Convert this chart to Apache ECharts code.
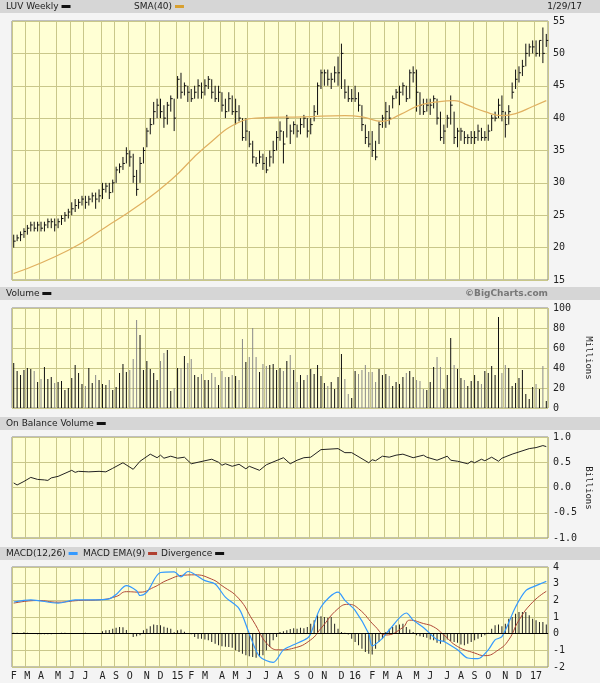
<!DOCTYPE html>
<html><head><meta charset="utf-8">
<script src="https://cdn.jsdelivr.net/npm/echarts@6/dist/echarts.min.js"></script>
<style>html,body{margin:0;padding:0;background:#f2f2f2}#c{width:600px;height:683px}</style>
</head><body><div id="c"></div>
<script>
const monthStart=[0,4,8,13,17,21,26,30,34,39,43,48,52,56,61,65,69,74,78,83,87,91,96,100,105,109,113,118,122,127,131,135,139,144,148,153];
const monthLabels=['F','M','A','M','J','J','A','S','O','N','D','15','F','M','A','M','J','J','A','S','O','N','D','16','F','M','A','M','J','J','A','S','O','N','D','17'];
const closes=[21,21.5,22,22.5, 23,23.5,23,23.5, 23,23.5,24,24,23.5, 24,24.5,25,25.5, 26,26.5,27,27.5, 27,27.5,28,27.5,28, 29,29.5,28.5,30, 32,32.5,33,34.5, 34,31,29,33,35, 38,39,41,42, 41,40,42,43,40,
46,44,45,44, 43,44,45,44, 45,46,44,43,44, 42,41,43,41, 41,40,37,38, 36,34,33,34,33, 32,34,35,37, 38,36,40,38,39, 38,39,40,38, 39,41,45,47, 47,46,46,47,47, 50,44,43,43,
43,42,39,37,36, 35,34,39,40, 41,40,43,44, 44,45,43,47,47, 44,42,41,42, 42,43,40,37,38, 40,42,37,38, 38,37,37,37, 37,38,37,37, 38,40,40,42,41, 39,41,44,46, 47,48,50,51,51, 50,52,50,52];
const highs=[22,22,22.5,23, 23.5,24,24,24, 24,24,24.5,24.5,24.5, 24.5,25,25.5,26, 27,27.5,27.5,28, 28,28,28.5,28.5,29, 30,30,30,30.5, 32.5,33,34,35.5, 35,34.5,32,34,35.5, 38.5,40,42.5,43, 43,42,42.5,43.5,43,
46.5,47,45.5,45, 44.5,45,46,45.5, 46,46.5,46,45,45, 44,43,44,43.5, 43,42,40,40, 38,36.5,34,35,34.5, 34,35,36.5,38, 39.5,38,40.5,39,39.5, 39,40,40.5,40, 40,42,45.5,47.5, 47.5,47.5,47,48,49.5, 51.5,46,45,44.5,
45,44,42,39,38, 38,36.5,39.5,40.5, 42.5,42,43.5,44.5, 45,45.5,45,47.5,48, 47.5,44,43,43, 43,43.5,43,41,39, 40.5,43.5,41,38.5, 38.5,38,37.5,38, 38,39,38.5,38, 39,40.5,41,43,43.5, 41,42,45.5,47.5, 48,49,51.5,51.5,52, 52,52,54,53];
const lows=[20,21,21,21.5, 22,22.5,22.5,22.5, 22.5,22.5,23,23,22.5, 23,23.5,24,24.5, 25,25.5,26,26.5, 26,26.5,27,26,27, 27.5,28.5,27.5,28.5, 30,31.5,32,33, 32.5,30,28,30,33, 35.5,37.5,39,40, 40,38.5,39,41,38,
43,43,43.5,42.5, 42.5,43,43,43, 43.5,44.5,43,42.5,42.5, 41,40,41,40.5, 39,39.5,36.5,36.5, 35.5,33,32.5,33,32, 31.5,32.5,33,35, 36.5,33,37,36,37.5, 37,37.5,38.5,37, 37.5,39.5,40.5,44.5, 45,45,44.5,45.5,45, 44.5,43,42.5,42.5,
42.5,41,38,36,35.5, 34,33.5,36,38.5, 38.5,39,41.5,43, 42,43.5,42.5,43,45.5, 41,40.5,40.5,41, 40.5,41.5,39,36.5,36, 38.5,39,36,35.5, 36.5,36,36,36, 36,36.5,36.5,36.5, 36.5,38,39.5,40,39.5, 37,39,43,44.5, 45.5,46.5,48,49.5,50, 49.5,49.5,48.5,51];
const sma40=[[0,16],[15.6,19.6],[27,23.2],[36,26.3],[45.6,30.4],[56,35.5],[67,39.6],[71,40],[85,40.2],[97,40.4],[102,40.2],[107.5,39.5],[113,40.5],[119,42],[124,42.5],[129,42.7],[133,42],[137.5,41],[142.6,40.4],[146.5,40.7],[152,41.8],[156,42.7]];
const volume=[45,37,33,38,40,39,37,26,29,41, 29,31,25,26,27,18,20,30,43,35, 24,22,40,25,33,28,24,23,28,18, 21,35,44,36,38,49,88,73,38,47, 39,35,28,47,55,58,17,20,40,40,
52,45,49,33,31,34,28,28,35,31, 23,37,31,31,33,32,28,69,46,51, 80,51,36,44,42,43,44,38,40,37, 47,53,38,26,33,28,33,39,34,43, 32,25,22,26,19,31,54,29,14,10,
37,34,38,43,36,36,26,39,33,34, 32,22,26,24,31,35,37,31,28,27, 19,18,26,41,51,41,19,33,70,43, 39,30,28,22,27,33,27,24,37,35, 42,33,91,35,43,40,22,25,30,38, 14,9,21,24,19,42,7];
const obv=[[0,0.09],[1,0.05],[3,0.12],[5,0.2],[7,0.16],[8.5,0.15],[10,0.14],[11,0.19],[13,0.22],[16.5,0.34],[18,0.3],[19,0.32],[22,0.31],[24.5,0.32],[26.5,0.31],[29,0.38],[32,0.49],[35,0.36],[37,0.52],[40,0.66],[42,0.59],[43,0.64],[44,0.58],[46,0.62],[48,0.58],[50,0.6],[52,0.47],[54,0.5],[57.5,0.56],[60,0.5],[61,0.44],[62,0.47],[63.5,0.42],[66,0.46],[68,0.37],[69,0.42],[72,0.34],[74,0.45],[79,0.59],[80.5,0.47],[83,0.54],[85,0.59],[87,0.6],[90,0.75],[94.5,0.77],[96.5,0.69],[98.5,0.69],[103.5,0.49],[105,0.55],[106,0.53],[108,0.62],[110,0.6],[112,0.64],[114,0.66],[117,0.59],[119.5,0.64],[121,0.6],[123.5,0.54],[126.5,0.62],[128,0.54],[130,0.52],[132.5,0.47],[134,0.52],[135,0.49],[137,0.56],[138,0.53],[140,0.6],[141.5,0.52],[143,0.58],[146,0.66],[150.5,0.77],[153,0.79],[154.5,0.83],[156,0.81]];
const macd=[[0,1.9],[5,2.03],[13,1.83],[17.5,2.03],[23,2.03],[27.5,2.09],[30,2.35],[33,2.88],[35.5,2.58],[37,2.29],[38.7,2.49],[43,3.67],[47,3.71],[48.8,3.41],[51,3.73],[55.5,3.18],[59,2.98],[62,2.19],[65.5,1.5],[69,0],[72,-1.36],[75.6,-1.72],[79,-0.97],[82,-0.67],[85.7,-0.28],[87.4,0],[90,1.6],[94.6,2.49],[97,2.0],[100,1.4],[103.6,0],[105,-0.73],[108,-0.28],[110,0.22],[115,1.24],[117,0.81],[120,0.37],[124,-0.37],[126,-0.47],[130,-0.97],[133,-1.46],[136,-1.5],[139,-0.97],[140.5,-0.37],[143,-0.18],[147,1.6],[150,2.58],[153,2.88],[155.5,3.14]];
const ema9=[[0,1.83],[7.4,1.99],[13,1.89],[18.6,1.99],[25,2.03],[30,2.23],[33,2.52],[37,2.49],[41,2.78],[45.4,3.21],[50,3.51],[53,3.53],[57.7,3.27],[61,2.88],[65.5,2.09],[70,0.81],[74.5,-0.77],[78,-0.97],[82,-0.87],[86.8,-0.37],[90,0.32],[94.6,1.5],[98,1.76],[101,1.5],[105.8,0.41],[109,-0.08],[113.6,0.37],[116.4,0.81],[120,0.61],[122.6,0.41],[126,-0.08],[130,-0.77],[135,-1.16],[137.7,-1.32],[141.6,-0.97],[145,-0.37],[148,0.81],[151.7,1.89],[155.5,2.54]];
const divergence=[0.05,0.05,0.04,0.08,0.06,0,0,-0.03,-0.03,-0.03, -0.04,-0.03,-0.02,-0.02,0.06,0.05,0.04,0.04,0.03,0, 0.04,0.05,0.03,0.02,-0.02,0.02,0.15,0.2,0.22,0.3, 0.35,0.4,0.38,0.22,0,-0.2,-0.15,-0.1,0.2,0.3,
0.45,0.55,0.52,0.5,0.42,0.35,0.3,0.08,0.2,0.25, 0.12,0.02,-0.03,-0.2,-0.3,-0.3,-0.35,-0.4,-0.5,-0.6, -0.7,-0.75,-0.78,-0.8,-0.85,-1.0,-1.1,-1.2,-1.3,-1.35, -1.4,-1.45,-1.4,-1.3,-1.0,-0.8,-0.4,-0.2,0.1,0.15,
0.2,0.28,0.32,0.3,0.35,0.32,0.4,0.6,0.8,1.1, 1.05,1.0,0.95,1.0,0.6,0.3,0.1,0.05,-0.05,-0.3, -0.5,-0.7,-0.9,-1.1,-1.2,-1.25,-0.9,-0.5,-0.3,0.1, 0.3,0.4,0.5,0.55,0.6,0.4,0.25,0.1,-0.1,-0.15,
-0.2,-0.25,-0.35,-0.4,-0.55,-0.6,-0.5,-0.35,-0.45,-0.5, -0.55,-0.65,-0.7,-0.6,-0.5,-0.4,-0.3,-0.2,-0.1,0.05, 0.3,0.5,0.55,0.45,0.6,0.9,1.0,1.2,1.3,1.3, 1.3,1.1,0.9,0.8,0.7,0.7,0.55];

const N=closes.length;
const cats=[];for(let i=0;i<N;i++)cats.push(String(i));
const FONT='DejaVu Sans Mono';
const HFONT='DejaVu Sans';
const gridCol='#c9c78a';
const isMonth=(i)=>monthStart.indexOf(i)>=0;
const panels=[{top:21,h:259},{top:308,h:100},{top:437,h:101},{top:567,h:100}];
const grids=panels.map(p=>({left:12,right:52,top:p.top,height:p.h,backgroundColor:'#ffffd4',show:true,borderColor:'#888',borderWidth:1}));
const xAxes=panels.map((p,k)=>({type:'category',gridIndex:k,data:cats,boundaryGap:true,
  axisLine:{show:k===3,lineStyle:{color:'#666'}},axisTick:{show:false},
  axisLabel:{show:k===3,interval:(i)=>isMonth(i),formatter:(v,i)=>monthLabels[monthStart.indexOf(+v)]||'',fontFamily:FONT,fontSize:10,color:'#222',margin:4},
  splitLine:{show:true,interval:(i)=>isMonth(i),lineStyle:{color:gridCol,width:1}}}));
function yAx(k,min,max,interval,fmt){return{type:'value',gridIndex:k,position:'right',min,max,interval,
  axisLine:{show:false},axisTick:{show:false},
  axisLabel:{fontFamily:FONT,fontSize:10,color:'#222',margin:5,formatter:fmt},
  splitLine:{show:true,lineStyle:{color:gridCol,width:1}}};}
const yAxes=[yAx(0,15,55,5),yAx(1,0,100,20),yAx(2,-1,1,0.5,v=>v.toFixed(1)),yAx(3,-2,4,1)];
const priceData=closes.map((c,i)=>[i,highs[i],lows[i],c]);
const volData=volume.map((v,i)=>({value:v,itemStyle:{color:(i===0||closes[i]>=closes[i-1])?'#111':'#888'}}));
const sw=(c)=>({width:9,height:3,backgroundColor:c});
function header(y,items,right){const els=[{type:'rect',shape:{x:0,y:y,width:600,height:13},style:{fill:'#d6d6d6'}}];
  items.forEach(it=>{els.push({type:'text',x:it.x,y:y+6.5,style:{text:it.t+' {s|}',font:'9px '+HFONT,fill:'#222',textVerticalAlign:'middle',rich:{s:sw(it.c)}}});});
  if(right)els.push({type:'text',x:right.x,y:y+6.5,style:{text:right.t,font:(right.bold?'bold ':'')+'9px '+HFONT,fill:right.fill||'#222',textAlign:'right',textVerticalAlign:'middle'}});
  return els;}
let graphics=[].concat(
  header(0,[{t:'LUV Weekly',x:6,c:'#111'},{t:'SMA(40)',x:134,c:'#d8a030'}],{t:'1/29/17',x:582}),
  header(287,[{t:'Volume',x:6,c:'#111'}],{t:'©BigCharts.com',x:548,bold:true,fill:'#777'}),
  header(417,[{t:'On Balance Volume',x:6,c:'#111'}]),
  header(547,[{t:'MACD(12,26)',x:6,c:'#3399ff'},{t:'MACD EMA(9)',x:83,c:'#b04030'},{t:'Divergence',x:161,c:'#111'}]),
  [{type:'text',x:588,y:358,rotation:-Math.PI/2,style:{text:'Millions',font:'9px '+FONT,fill:'#222',textAlign:'center',textVerticalAlign:'middle'}},
   {type:'text',x:588,y:488,rotation:-Math.PI/2,style:{text:'Billions',font:'9px '+FONT,fill:'#222',textAlign:'center',textVerticalAlign:'middle'}}]
);
const chart=echarts.init(document.getElementById('c'));
chart.setOption({animation:false,backgroundColor:'#f4f4f4',grid:grids,xAxis:xAxes,yAxis:yAxes,graphic:graphics,
series:[
 {type:'custom',xAxisIndex:0,yAxisIndex:0,data:priceData,encode:{x:0,y:[1,2,3]},renderItem:(params,api)=>{
   const i=api.value(0),h=api.coord([i,api.value(1)]),l=api.coord([i,api.value(2)]),c=api.coord([i,api.value(3)]);
   return{type:'group',children:[
     {type:'line',shape:{x1:h[0],y1:h[1],x2:l[0],y2:l[1]},style:{stroke:'#111',lineWidth:1}},
     {type:'line',shape:{x1:c[0],y1:c[1],x2:c[0]+2,y2:c[1]},style:{stroke:'#111',lineWidth:1}}]};}},
 {type:'line',xAxisIndex:0,yAxisIndex:0,data:sma40,smooth:true,showSymbol:false,lineStyle:{color:'#e0b060',width:1.2}},
 {type:'bar',xAxisIndex:1,yAxisIndex:1,data:volData,barWidth:1},
 {type:'line',xAxisIndex:2,yAxisIndex:2,data:obv,showSymbol:false,lineStyle:{color:'#222',width:1}},
 {type:'bar',xAxisIndex:3,yAxisIndex:3,data:divergence,barWidth:1,itemStyle:{color:'#222'},
   markLine:{silent:true,symbol:'none',label:{show:false},data:[{yAxis:0}],lineStyle:{color:'#000',width:1,type:'solid'}}},
 {type:'line',xAxisIndex:3,yAxisIndex:3,data:ema9,smooth:true,showSymbol:false,lineStyle:{color:'#b04838',width:1}},
 {type:'line',xAxisIndex:3,yAxisIndex:3,data:macd,smooth:0.3,showSymbol:false,lineStyle:{color:'#3399ff',width:1.2}}
]});
</script></body></html>
